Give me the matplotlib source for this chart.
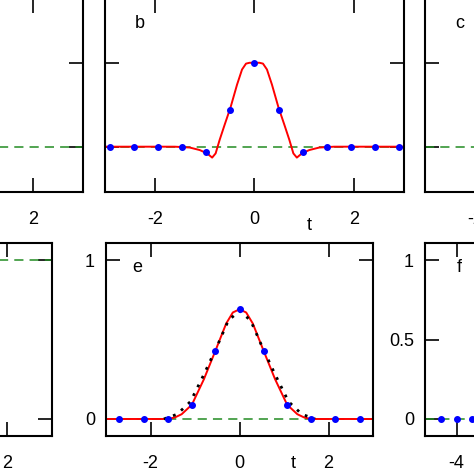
import matplotlib
matplotlib.use("Agg")
import matplotlib.pyplot as plt

plt.rcParams["font.family"] = ["Liberation Sans", "DejaVu Sans"]
plt.rcParams["font.size"] = 13
plt.rcParams["axes.unicode_minus"] = False

# panel b: red curve and blue samples
b_t = [-3, -1.6, -1.3, -1.1, -0.95, -0.85, -0.78, -0.7, -0.6, -0.48, -0.35, -0.25, -0.17, -0.1, 0,
       0.1, 0.17, 0.25, 0.35, 0.48, 0.6, 0.7, 0.78, 0.85, 0.95, 1.1, 1.3, 1.6, 3]
b_y = [0, 0, -0.01, -0.04, -0.08, -0.13, -0.08, 0.08, 0.26, 0.47, 0.74, 0.92, 0.99, 1.0, 1.0,
       1.0, 0.99, 0.92, 0.74, 0.47, 0.26, 0.08, -0.08, -0.13, -0.08, -0.04, -0.01, 0, 0]
b_pt = [-2.9, -2.42, -1.94, -1.46, -0.97, -0.49, 0, 0.49, 0.97, 1.46, 1.94, 2.42, 2.9]
b_py = [0, 0, 0, 0, -0.06, 0.44, 1.0, 0.44, -0.06, 0, 0, 0, 0]

# panel e: red curve, black dotted curve, blue samples
e_t = [-3, -1.6, -1.45, -1.3, -1.07, -0.8, -0.54, -0.3, -0.15, 0,
       0.15, 0.3, 0.54, 0.8, 1.07, 1.3, 1.45, 1.6, 3]
e_y = [0, 0, 0.01, 0.03, 0.09, 0.25, 0.43, 0.6, 0.67, 0.69,
       0.67, 0.6, 0.43, 0.25, 0.09, 0.03, 0.01, 0, 0]
e_dt = [-1.7, -1.4, -1.1, -0.8, -0.5, -0.25, 0, 0.25, 0.5, 0.8, 1.1, 1.4, 1.7]
e_dy = [0, 0.03, 0.11, 0.28, 0.46, 0.62, 0.68, 0.62, 0.46, 0.28, 0.11, 0.03, 0]
e_pt = [-2.71, -2.15, -1.61, -1.07, -0.54, 0, 0.54, 1.07, 1.61, 2.15, 2.71]
e_py = [0, 0, 0, 0.09, 0.43, 0.69, 0.43, 0.09, 0, 0, 0]

f_pt = [-4.5, -4.0, -3.5]
f_py = [0, 0, 0]

W = H = 474
fig = plt.figure(figsize=(4.74, 4.74), dpi=100)


def box(x0, y0, x1, y1):
    ax = fig.add_axes([x0 / W, 1 - y1 / H, (x1 - x0) / W, (y1 - y0) / H])
    for s in ax.spines.values():
        s.set_linewidth(1.5)
    ax.tick_params(direction="in", length=10, width=1.2, top=True, right=True, pad=14)
    return ax


GREEN = "#228b22"
# top row: 50 px per unit in t, 84 px per unit in y
for x0, x1, lab in [(-217, 83, None), (105, 404, "b"), (425, 725, "c")]:
    ax = box(x0, -1, x1, 192)
    ax.set_xlim(-3, 3)
    ax.set_ylim(-0.54, 1.76)
    ax.set_xticks([-2, 0, 2])
    ax.set_yticks([0, 1])
    ax.set_yticklabels([])
    ax.axhline(0, color=GREEN, ls=(0, (6, 4)), lw=1.1)
    if lab:
        ax.text(0.1, 0.85, lab, transform=ax.transAxes)
    if lab == "b":
        ax.plot(b_t, b_y, color="red", lw=1.4)
        ax.plot(b_pt, b_py, "o", color="blue", ms=4)
        fig.text(309 / W, 1 - 226 / H, "t", ha="center", va="center")

# bottom row: 44.7 px per unit in t, 159 px per unit in y
ax = box(-216, 243, 52, 436)
ax.set_xlim(-3, 3); ax.set_ylim(-0.107, 1.107)
ax.set_xticks([-2, 0, 2]); ax.set_yticks([0, 1]); ax.set_yticklabels([])
ax.axhline(1, color=GREEN, ls=(0, (6, 4)), lw=1.1)

ax = box(106, 243, 373, 436)
ax.set_xlim(-3, 3); ax.set_ylim(-0.107, 1.107)
ax.set_xticks([-2, 0, 2]); ax.set_yticks([0, 1])
ax.tick_params(axis="y", pad=8)
ax.axhline(0, color=GREEN, ls=(0, (6, 4)), lw=1.1)
ax.plot(e_t, e_y, color="red", lw=1.4)
ax.plot(e_dt, e_dy, color="black", ls=(0, (1, 2.5)), lw=2)
ax.plot(e_pt, e_py, "o", color="blue", ms=4)
ax.text(0.1, 0.85, "e", transform=ax.transAxes)
fig.text(293 / W, 1 - 463 / H, "t", ha="center", va="center")

ax = box(425, 243, 740, 436)
ax.set_xlim(-5, 5); ax.set_ylim(-0.107, 1.107)
ax.set_xticks([-4, 0, 4]); ax.set_yticks([0, 0.5, 1])
ax.set_yticklabels(["0", "0.5", "1"])
ax.tick_params(axis="y", pad=8)
ax.axhline(0, color=GREEN, ls=(0, (6, 4)), lw=1.1)
ax.plot(f_pt, f_py, "o", color="blue", ms=4)
ax.text(0.1, 0.85, "f", transform=ax.transAxes)

fig.savefig("out.png", dpi=100)
